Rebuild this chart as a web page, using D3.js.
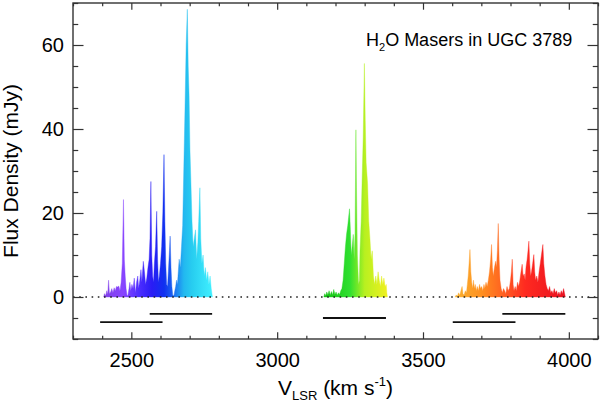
<!DOCTYPE html>
<html>
<head>
<meta charset="utf-8">
<script src="https://cdn.jsdelivr.net/npm/d3@7"></script>
<style>
  body { margin: 0; background: #fff; }
  text { font-family: "Liberation Sans", Arial, Helvetica, sans-serif; }
</style>
</head>
<body>
<div id="chart"></div>
<script>
// Spectrum: [velocity km/s, flux mJy]
var blueGroup = [
  [2405,0],[2408,0.8],[2412,0.3],[2416,1.5],[2419,0.6],[2422,4.0],[2425,0.8],[2429,1.2],[2433,2.0],[2437,1.0],
  [2441,2.2],[2445,1.5],[2449,2.5],[2453,2.4],[2457,2.6],[2461,1.5],[2465,3.5],[2469,8],[2473,23.2],[2476,9],
  [2479,5],[2482,2],[2485,0.5],[2488,0.3],[2492,2.0],[2495,3.5],[2498,1.5],[2502,3.0],[2506,2.0],[2510,4.5],
  [2514,1.0],[2518,3.5],[2522,5.0],[2525,2.0],[2529,4.0],[2533,6.5],[2536,3.5],[2541,8.5],[2545,6],[2549,3],
  [2553,4.5],[2557,7],[2561,9],[2564,14],[2567,27.5],[2570,10],[2573,5],[2576,3.5],[2579,8],[2583,12],
  [2587,20.4],[2590,9],[2593,3.5],[2596,5],[2600,8],[2604,12],[2608,20],[2612,33.9],[2615,18],[2618,8],
  [2621,3],[2624,2.5],[2627,6],[2630,10],[2633,14.5],[2636,7],[2639,2.5],[2642,0.5],[2646,0.3],[2649,1.5],
  [2652,2.5],[2655,4],[2658,3],[2661,6],[2664,9],[2668,7],[2672,12],[2676,17],[2680,31],[2684,45],
  [2688,60],[2692,68.5],[2695,55],[2698,48],[2701,35],[2704,28],[2708,18],[2712,12],[2716,14],[2720,16],
  [2724,9],[2728,13],[2731,18],[2735,26],[2738,14],[2742,8],[2746,10],[2750,5],[2754,7],[2758,4],
  [2762,6],[2766,3],[2770,5],[2774,2],[2778,0]
];
var greenGroup = [
  [3160,0],[3163,0.8],[3167,0.3],[3170,1.2],[3174,0.5],[3178,1.5],[3182,0.4],[3186,1.3],[3190,0.5],[3194,1.8],
  [3198,0.6],[3202,1.2],[3206,0.4],[3210,1.0],[3214,0.6],[3218,1.5],[3222,2],[3226,4],[3230,8],[3234,12],
  [3238,15],[3242,17],[3245,19],[3248,21],[3251,16],[3254,10],[3257,12],[3261,14.9],[3264,9],[3267,15],
  [3270,39.8],[3272,26],[3275,10],[3279,3],[3282,4],[3284,11],[3288,18],[3291,27],[3295,38],[3299,55.6],
  [3302,42],[3305,32],[3310,27],[3314,18],[3318,14],[3322,9],[3326,11],[3330,5],[3334,3],[3338,5],
  [3342,3],[3346,6],[3350,4],[3354,2.5],[3358,5],[3362,3],[3366,4.5],[3370,2.5],[3374,3],[3376,1],[3378,0]
];
var redGroup = [
  [3610,0],[3614,0.5],[3618,0.2],[3622,1],[3626,0.4],[3630,1.5],[3634,2.5],[3637,0.8],[3641,0.5],[3645,1.5],
  [3649,1],[3652,3],[3655,5],[3658,8],[3661,11.3],[3664,6],[3667,3.5],[3670,2],[3673,4],[3676,2],
  [3679,3],[3683,1.5],[3686,2.5],[3690,1.5],[3694,3],[3697,2],[3701,2.5],[3705,1.5],[3709,3],[3712,2],
  [3716,3.5],[3720,2.5],[3724,4],[3728,6],[3732,9],[3735,12.5],[3738,7],[3741,5],[3745,7],[3749,8.5],
  [3752,7],[3755,11],[3758,17.5],[3761,9],[3764,4],[3768,2],[3772,1],[3776,2],[3780,1.5],[3784,0.8],
  [3788,2.5],[3792,1.5],[3796,2],[3800,4],[3803,6],[3806,9],[3809,3],[3812,1.5],[3816,2.5],[3820,1.5],
  [3824,3.5],[3828,2.5],[3832,4],[3836,6],[3840,7.8],[3843,5],[3847,5.5],[3850,4],[3853,7],[3857,9],
  [3860,11],[3863,13.3],[3866,8],[3869,5],[3872,6],[3876,8],[3880,10.1],[3883,6],[3886,4],[3890,5],
  [3894,3.5],[3898,6],[3902,8],[3906,10],[3911,12.5],[3914,8],[3918,5],[3922,3],[3926,2],[3930,1.5],
  [3934,2.5],[3938,1],[3942,1.5],[3946,0.8],[3950,2],[3954,1],[3958,1.5],[3962,0.5],[3966,1.2],[3970,0.5],
  [3974,1.5],[3978,0.8],[3982,2],[3985,1],[3988,0]
];

// rainbow colouring along velocity
var colorVel = [2405, 2473, 2530, 2570, 2612, 2640, 2680, 2710, 2778, 3160, 3250, 3300, 3378, 3612, 3700, 3760, 3850, 3988];
var colorHex = ["#8040e8", "#8844ff", "#4a2cff", "#2a1cf5", "#1030f0", "#1a60f0", "#22b8f0", "#28cef0", "#40f0ff",
                "#10c010", "#30e030", "#b8f020", "#f0f020", "#f8b030", "#ff9020", "#ff6a20", "#ff2a20", "#e81020"];

// horizontal bars below the spectrum
var barStart = [2393, 2563, 3157, 3602, 3772];
var barEnd   = [2607, 2777, 3373, 3817, 3988];
var barLevel = [-6, -4, -5, -6, -4];

var xMajor = [2500, 3000, 3500, 4000];
var yMajor = [0, 20, 40, 60];

var svgWidth = 602;
var svgHeight = 405;
var margin = { top: 3, right: 4, bottom: 66, left: 73 };
var chartWidth = svgWidth - margin.left - margin.right;
var chartHeight = svgHeight - margin.top - margin.bottom;

var svg = d3.select("#chart")
  .append("svg")
  .attr("width", svgWidth)
  .attr("height", svgHeight);

var chartGroup = svg.append("g")
  .attr("transform", `translate(${margin.left}, ${margin.top})`);

var xScale = d3.scaleLinear().domain([2300, 4100]).range([0, chartWidth]);
var yScale = d3.scaleLinear().domain([-10, 70]).range([chartHeight, 0]);
var colorScale = d3.scaleLinear().domain(colorVel).range(colorHex);

var defs = svg.append("defs");

var area = d3.area()
  .x(d => xScale(d[0]))
  .y0(yScale(0))
  .y1(d => yScale(d[1]));

[blueGroup, greenGroup, redGroup].forEach(function(group, i) {
  var v0 = group[0][0], v1 = group[group.length - 1][0];
  var grad = defs.append("linearGradient")
    .attr("id", "grad" + i)
    .attr("gradientUnits", "userSpaceOnUse")
    .attr("x1", xScale(v0)).attr("x2", xScale(v1))
    .attr("y1", 0).attr("y2", 0);
  var stops = colorVel.filter(v => v >= v0 && v <= v1);
  if (stops[0] !== v0) stops.unshift(v0);
  if (stops[stops.length - 1] !== v1) stops.push(v1);
  stops.forEach(function(v) {
    grad.append("stop")
      .attr("offset", (v - v0) / (v1 - v0))
      .attr("stop-color", colorScale(v));
  });
  chartGroup.append("path")
    .datum(group)
    .attr("d", area)
    .attr("fill", "url(#grad" + i + ")")
    .attr("stroke", "url(#grad" + i + ")")
    .attr("stroke-width", 0.4);
});

// zero level, dotted
chartGroup.append("line")
  .attr("x1", 0).attr("x2", chartWidth)
  .attr("y1", yScale(0)).attr("y2", yScale(0))
  .attr("stroke", "#222")
  .attr("stroke-width", 1.6)
  .attr("stroke-dasharray", "1.6,4.6");

// bars
chartGroup.selectAll(".bar")
  .data(barStart)
  .enter()
  .append("line")
  .attr("class", "bar")
  .attr("x1", (d, i) => xScale(barStart[i]))
  .attr("x2", (d, i) => xScale(barEnd[i]))
  .attr("y1", (d, i) => yScale(barLevel[i]))
  .attr("y2", (d, i) => yScale(barLevel[i]))
  .attr("stroke", "#111")
  .attr("stroke-width", 1.8);

// axes, IDL style: inward ticks on all four sides
var xLen = 6.7, yLen = 10.5;
var xMinor = d3.range(2300, 4101, 100).filter(v => xMajor.indexOf(v) < 0);
var yMinor = d3.range(-10, 71, 5).filter(v => yMajor.indexOf(v) < 0);

function styleAxis(g) {
  g.select(".domain").remove();
  g.selectAll("line").attr("stroke", "#333").attr("stroke-width", 1.2);
  g.selectAll("text").attr("fill", "#000").attr("font-size", "20px")
    .attr("font-family", "'Liberation Sans', Arial, sans-serif");
}

chartGroup.append("g")
  .attr("transform", `translate(0, ${chartHeight})`)
  .call(d3.axisBottom(xScale).tickValues(xMajor).tickSize(-xLen).tickPadding(13.5).tickFormat(d3.format("d")))
  .call(styleAxis);
chartGroup.append("g")
  .attr("transform", `translate(0, ${chartHeight})`)
  .call(d3.axisBottom(xScale).tickValues(xMinor).tickSize(-xLen / 2).tickFormat(""))
  .call(styleAxis);
chartGroup.append("g")
  .call(d3.axisTop(xScale).tickValues(xMajor).tickSize(-xLen).tickFormat(""))
  .call(styleAxis);
chartGroup.append("g")
  .call(d3.axisTop(xScale).tickValues(xMinor).tickSize(-xLen / 2).tickFormat(""))
  .call(styleAxis);

chartGroup.append("g")
  .call(d3.axisLeft(yScale).tickValues(yMajor).tickSize(-yLen).tickPadding(9))
  .call(styleAxis);
chartGroup.append("g")
  .call(d3.axisLeft(yScale).tickValues(yMinor).tickSize(-yLen / 2).tickFormat(""))
  .call(styleAxis);
chartGroup.append("g")
  .attr("transform", `translate(${chartWidth}, 0)`)
  .call(d3.axisRight(yScale).tickValues(yMajor).tickSize(-yLen).tickFormat(""))
  .call(styleAxis);
chartGroup.append("g")
  .attr("transform", `translate(${chartWidth}, 0)`)
  .call(d3.axisRight(yScale).tickValues(yMinor).tickSize(-yLen / 2).tickFormat(""))
  .call(styleAxis);

// frame
chartGroup.append("rect")
  .attr("width", chartWidth)
  .attr("height", chartHeight)
  .attr("fill", "none")
  .attr("stroke", "#333")
  .attr("stroke-width", 1.4);

// title
var title = chartGroup.append("text")
  .attr("x", 293)
  .attr("y", 42.5)
  .attr("font-size", "18px")
  .attr("fill", "#000");
title.append("tspan").text("H");
title.append("tspan").attr("font-size", "11px").attr("dy", 5).text("2");
title.append("tspan").attr("dy", -5).text("O Masers in UGC 3789");

// axis labels
var xLabel = chartGroup.append("text")
  .attr("x", chartWidth / 2)
  .attr("y", chartHeight + 56)
  .attr("text-anchor", "middle")
  .attr("font-size", "21px")
  .attr("fill", "#000");
xLabel.append("tspan").text("V");
xLabel.append("tspan").attr("font-size", "13px").attr("dy", 5).text("LSR");
xLabel.append("tspan").attr("dy", -5).text(" (km s");
xLabel.append("tspan").attr("font-size", "13px").attr("dy", -9).text("-1");
xLabel.append("tspan").attr("dy", 9).text(")");

chartGroup.append("text")
  .attr("transform", "rotate(-90)")
  .attr("x", -168)
  .attr("y", -55)
  .attr("text-anchor", "middle")
  .attr("font-size", "21px")
  .attr("fill", "#000")
  .text("Flux Density (mJy)");
</script>
</body>
</html>
